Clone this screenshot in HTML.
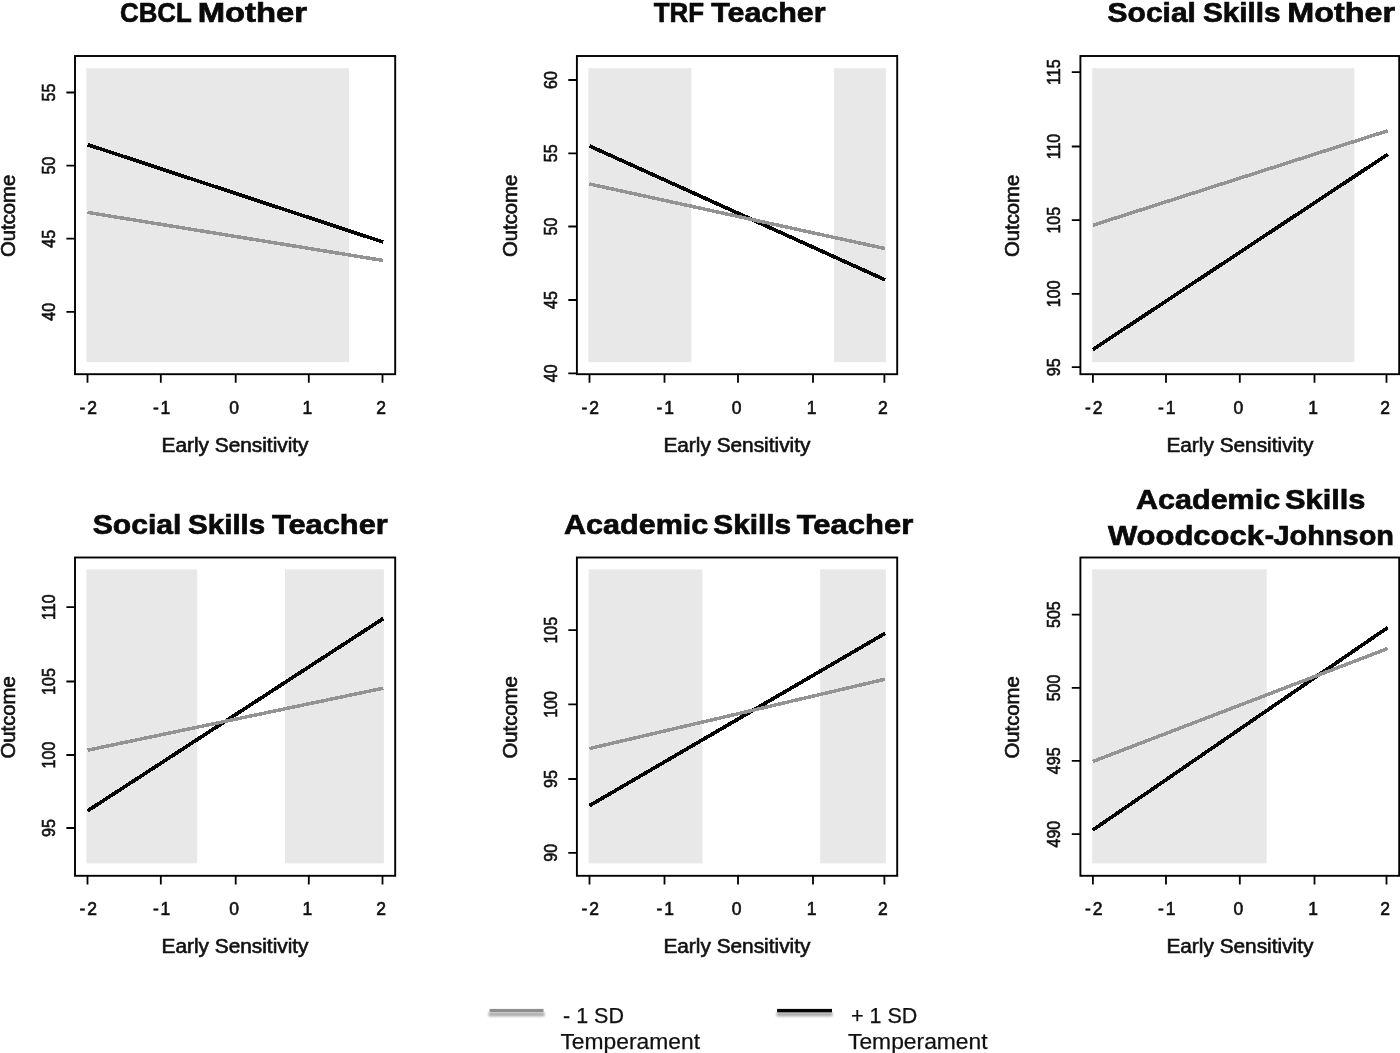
<!DOCTYPE html>
<html lang="en"><head><meta charset="utf-8"><title>Early Sensitivity by Temperament</title>
<style>html,body{margin:0;padding:0;background:#fff;overflow:hidden}svg{display:block}text{font-family:"Liberation Sans", sans-serif;fill:#111;stroke:#111;stroke-width:0.6px}.t{font-weight:bold;font-size:27.5px;fill:#0a0a0a;stroke:#0a0a0a;stroke-width:0.7px}.k{font-size:17.5px}.l{font-size:19.5px}.g{font-size:21.5px;stroke-width:0.25px}</style></head><body>
<svg width="1400" height="1053" viewBox="0 0 1400 1053">
<rect width="1400" height="1053" fill="#fff"/>
<g>
<rect x="86.4" y="68.2" width="262.6" height="294.0" fill="#e8e8e8"/>
<line x1="87.5" y1="144.6" x2="383.3" y2="242.1" stroke="#060606" stroke-width="3.7" shape-rendering="crispEdges"/>
<line x1="87.5" y1="212.4" x2="383.3" y2="260.5" stroke="#939393" stroke-width="3.5" shape-rendering="crispEdges"/>
<rect x="75.0" y="56.0" width="320.2" height="318.2" fill="none" stroke="#000" stroke-width="1.9"/>
<path d="M87.5 374.2v8.6M160.8 374.2v8.6M235.7 374.2v8.6M308.8 374.2v8.6M382.5 374.2v8.6M75.0 92.5h-8.6M75.0 165.6h-8.6M75.0 238.7h-8.6M75.0 311.8h-8.6" stroke="#000" stroke-width="1.8" fill="none"/>
<text class="k" x="88.3" y="413.8" text-anchor="middle">-<tspan dx="1.8">2</tspan></text>
<text class="k" x="161.6" y="413.8" text-anchor="middle">-<tspan dx="1.8">1</tspan></text>
<text class="k" x="234.2" y="413.8" text-anchor="middle">0</text>
<text class="k" x="307.3" y="413.8" text-anchor="middle">1</text>
<text class="k" x="381.0" y="413.8" text-anchor="middle">2</text>
<text class="k" transform="translate(55.3 92.5) rotate(-90) scale(0.92 1)" text-anchor="middle">55</text>
<text class="k" transform="translate(55.3 165.6) rotate(-90) scale(0.92 1)" text-anchor="middle">50</text>
<text class="k" transform="translate(55.3 238.7) rotate(-90) scale(0.92 1)" text-anchor="middle">45</text>
<text class="k" transform="translate(55.3 311.8) rotate(-90) scale(0.92 1)" text-anchor="middle">40</text>
<text class="l" x="161.5" y="451.8" textLength="147" lengthAdjust="spacingAndGlyphs">Early Sensitivity</text>
<text class="l" transform="translate(15.1 215.9) rotate(-90)" x="-41.2" textLength="82.4" lengthAdjust="spacingAndGlyphs">Outcome</text>
</g>
<g>
<rect x="588.3" y="68.2" width="103.1" height="294.0" fill="#e8e8e8"/>
<rect x="834.0" y="68.2" width="51.8" height="294.0" fill="#e8e8e8"/>
<line x1="589.4" y1="145.9" x2="885.2" y2="279.9" stroke="#060606" stroke-width="3.7" shape-rendering="crispEdges"/>
<line x1="589.4" y1="184.0" x2="885.2" y2="248.6" stroke="#939393" stroke-width="3.5" shape-rendering="crispEdges"/>
<rect x="576.9" y="56.0" width="320.3" height="318.2" fill="none" stroke="#000" stroke-width="1.9"/>
<path d="M589.5 374.2v8.6M664.5 374.2v8.6M738.0 374.2v8.6M813.0 374.2v8.6M884.4 374.2v8.6M576.9 80.0h-8.6M576.9 153.3h-8.6M576.9 226.5h-8.6M576.9 300.0h-8.6M576.9 373.3h-8.6" stroke="#000" stroke-width="1.8" fill="none"/>
<text class="k" x="590.3" y="413.8" text-anchor="middle">-<tspan dx="1.8">2</tspan></text>
<text class="k" x="665.3" y="413.8" text-anchor="middle">-<tspan dx="1.8">1</tspan></text>
<text class="k" x="736.5" y="413.8" text-anchor="middle">0</text>
<text class="k" x="811.5" y="413.8" text-anchor="middle">1</text>
<text class="k" x="882.9" y="413.8" text-anchor="middle">2</text>
<text class="k" transform="translate(557.3 80.0) rotate(-90) scale(0.92 1)" text-anchor="middle">60</text>
<text class="k" transform="translate(557.3 153.3) rotate(-90) scale(0.92 1)" text-anchor="middle">55</text>
<text class="k" transform="translate(557.3 226.5) rotate(-90) scale(0.92 1)" text-anchor="middle">50</text>
<text class="k" transform="translate(557.3 300.0) rotate(-90) scale(0.92 1)" text-anchor="middle">45</text>
<text class="k" transform="translate(557.3 373.3) rotate(-90) scale(0.92 1)" text-anchor="middle">40</text>
<text class="l" x="663.4" y="451.8" textLength="147" lengthAdjust="spacingAndGlyphs">Early Sensitivity</text>
<text class="l" transform="translate(517.1 215.9) rotate(-90)" x="-41.2" textLength="82.4" lengthAdjust="spacingAndGlyphs">Outcome</text>
</g>
<g>
<rect x="1092.2" y="68.2" width="262.2" height="294.0" fill="#e8e8e8"/>
<line x1="1092.8" y1="349.6" x2="1387.8" y2="154.3" stroke="#060606" stroke-width="3.7" shape-rendering="crispEdges"/>
<line x1="1092.8" y1="225.3" x2="1387.8" y2="130.7" stroke="#939393" stroke-width="3.5" shape-rendering="crispEdges"/>
<rect x="1080.4" y="56.0" width="318.8" height="318.2" fill="none" stroke="#000" stroke-width="1.9"/>
<path d="M1092.9 374.2v8.6M1166.0 374.2v8.6M1239.8 374.2v8.6M1314.5 374.2v8.6M1386.5 374.2v8.6M1080.4 72.2h-8.6M1080.4 146.5h-8.6M1080.4 220.2h-8.6M1080.4 293.8h-8.6M1080.4 367.2h-8.6" stroke="#000" stroke-width="1.8" fill="none"/>
<text class="k" x="1093.7" y="413.8" text-anchor="middle">-<tspan dx="1.8">2</tspan></text>
<text class="k" x="1166.8" y="413.8" text-anchor="middle">-<tspan dx="1.8">1</tspan></text>
<text class="k" x="1238.3" y="413.8" text-anchor="middle">0</text>
<text class="k" x="1313.0" y="413.8" text-anchor="middle">1</text>
<text class="k" x="1385.0" y="413.8" text-anchor="middle">2</text>
<text class="k" transform="translate(1059.8 72.2) rotate(-90) scale(0.92 1)" text-anchor="middle">115</text>
<text class="k" transform="translate(1059.8 146.5) rotate(-90) scale(0.92 1)" text-anchor="middle">110</text>
<text class="k" transform="translate(1059.8 220.2) rotate(-90) scale(0.92 1)" text-anchor="middle">105</text>
<text class="k" transform="translate(1059.8 293.8) rotate(-90) scale(0.92 1)" text-anchor="middle">100</text>
<text class="k" transform="translate(1059.8 367.2) rotate(-90) scale(0.92 1)" text-anchor="middle">95</text>
<text class="l" x="1166.4" y="451.8" textLength="147" lengthAdjust="spacingAndGlyphs">Early Sensitivity</text>
<text class="l" transform="translate(1019.1 215.9) rotate(-90)" x="-41.2" textLength="82.4" lengthAdjust="spacingAndGlyphs">Outcome</text>
</g>
<g>
<rect x="86.4" y="569.4" width="110.8" height="294.0" fill="#e8e8e8"/>
<rect x="285.0" y="569.4" width="98.9" height="294.0" fill="#e8e8e8"/>
<line x1="87.5" y1="810.9" x2="383.3" y2="618.5" stroke="#060606" stroke-width="3.7" shape-rendering="crispEdges"/>
<line x1="87.5" y1="750.2" x2="383.3" y2="688.2" stroke="#939393" stroke-width="3.5" shape-rendering="crispEdges"/>
<rect x="75.0" y="557.5" width="320.2" height="318.3" fill="none" stroke="#000" stroke-width="1.9"/>
<path d="M87.5 875.8v8.6M160.8 875.8v8.6M235.7 875.8v8.6M308.8 875.8v8.6M382.5 875.8v8.6M75.0 607.1h-8.6M75.0 681.5h-8.6M75.0 755.0h-8.6M75.0 828.0h-8.6" stroke="#000" stroke-width="1.8" fill="none"/>
<text class="k" x="88.3" y="915.4" text-anchor="middle">-<tspan dx="1.8">2</tspan></text>
<text class="k" x="161.6" y="915.4" text-anchor="middle">-<tspan dx="1.8">1</tspan></text>
<text class="k" x="234.2" y="915.4" text-anchor="middle">0</text>
<text class="k" x="307.3" y="915.4" text-anchor="middle">1</text>
<text class="k" x="381.0" y="915.4" text-anchor="middle">2</text>
<text class="k" transform="translate(55.3 607.1) rotate(-90) scale(0.92 1)" text-anchor="middle">110</text>
<text class="k" transform="translate(55.3 681.5) rotate(-90) scale(0.92 1)" text-anchor="middle">105</text>
<text class="k" transform="translate(55.3 755.0) rotate(-90) scale(0.92 1)" text-anchor="middle">100</text>
<text class="k" transform="translate(55.3 828.0) rotate(-90) scale(0.92 1)" text-anchor="middle">95</text>
<text class="l" x="161.5" y="953.4" textLength="147" lengthAdjust="spacingAndGlyphs">Early Sensitivity</text>
<text class="l" transform="translate(15.1 717.4) rotate(-90)" x="-41.2" textLength="82.4" lengthAdjust="spacingAndGlyphs">Outcome</text>
</g>
<g>
<rect x="588.6" y="569.4" width="113.8" height="294.0" fill="#e8e8e8"/>
<rect x="820.2" y="569.4" width="65.6" height="294.0" fill="#e8e8e8"/>
<line x1="589.4" y1="805.7" x2="885.2" y2="633.3" stroke="#060606" stroke-width="3.7" shape-rendering="crispEdges"/>
<line x1="589.4" y1="748.6" x2="885.2" y2="679.2" stroke="#939393" stroke-width="3.5" shape-rendering="crispEdges"/>
<rect x="576.9" y="557.5" width="320.3" height="318.3" fill="none" stroke="#000" stroke-width="1.9"/>
<path d="M589.5 875.8v8.6M664.5 875.8v8.6M738.0 875.8v8.6M813.0 875.8v8.6M884.4 875.8v8.6M576.9 630.2h-8.6M576.9 704.4h-8.6M576.9 779.0h-8.6M576.9 852.8h-8.6" stroke="#000" stroke-width="1.8" fill="none"/>
<text class="k" x="590.3" y="915.4" text-anchor="middle">-<tspan dx="1.8">2</tspan></text>
<text class="k" x="665.3" y="915.4" text-anchor="middle">-<tspan dx="1.8">1</tspan></text>
<text class="k" x="736.5" y="915.4" text-anchor="middle">0</text>
<text class="k" x="811.5" y="915.4" text-anchor="middle">1</text>
<text class="k" x="882.9" y="915.4" text-anchor="middle">2</text>
<text class="k" transform="translate(557.3 630.2) rotate(-90) scale(0.92 1)" text-anchor="middle">105</text>
<text class="k" transform="translate(557.3 704.4) rotate(-90) scale(0.92 1)" text-anchor="middle">100</text>
<text class="k" transform="translate(557.3 779.0) rotate(-90) scale(0.92 1)" text-anchor="middle">95</text>
<text class="k" transform="translate(557.3 852.8) rotate(-90) scale(0.92 1)" text-anchor="middle">90</text>
<text class="l" x="663.4" y="953.4" textLength="147" lengthAdjust="spacingAndGlyphs">Early Sensitivity</text>
<text class="l" transform="translate(517.1 717.4) rotate(-90)" x="-41.2" textLength="82.4" lengthAdjust="spacingAndGlyphs">Outcome</text>
</g>
<g>
<rect x="1092.2" y="569.4" width="174.5" height="294.0" fill="#e8e8e8"/>
<line x1="1092.8" y1="830.0" x2="1387.8" y2="627.5" stroke="#060606" stroke-width="3.7" shape-rendering="crispEdges"/>
<line x1="1092.8" y1="761.5" x2="1387.8" y2="648.5" stroke="#939393" stroke-width="3.5" shape-rendering="crispEdges"/>
<rect x="1080.4" y="557.5" width="318.8" height="318.3" fill="none" stroke="#000" stroke-width="1.9"/>
<path d="M1092.9 875.8v8.6M1166.0 875.8v8.6M1239.8 875.8v8.6M1314.5 875.8v8.6M1386.5 875.8v8.6M1080.4 614.6h-8.6M1080.4 687.9h-8.6M1080.4 760.8h-8.6M1080.4 834.1h-8.6" stroke="#000" stroke-width="1.8" fill="none"/>
<text class="k" x="1093.7" y="915.4" text-anchor="middle">-<tspan dx="1.8">2</tspan></text>
<text class="k" x="1166.8" y="915.4" text-anchor="middle">-<tspan dx="1.8">1</tspan></text>
<text class="k" x="1238.3" y="915.4" text-anchor="middle">0</text>
<text class="k" x="1313.0" y="915.4" text-anchor="middle">1</text>
<text class="k" x="1385.0" y="915.4" text-anchor="middle">2</text>
<text class="k" transform="translate(1059.8 614.6) rotate(-90) scale(0.92 1)" text-anchor="middle">505</text>
<text class="k" transform="translate(1059.8 687.9) rotate(-90) scale(0.92 1)" text-anchor="middle">500</text>
<text class="k" transform="translate(1059.8 760.8) rotate(-90) scale(0.92 1)" text-anchor="middle">495</text>
<text class="k" transform="translate(1059.8 834.1) rotate(-90) scale(0.92 1)" text-anchor="middle">490</text>
<text class="l" x="1166.4" y="953.4" textLength="147" lengthAdjust="spacingAndGlyphs">Early Sensitivity</text>
<text class="l" transform="translate(1019.1 717.4) rotate(-90)" x="-41.2" textLength="82.4" lengthAdjust="spacingAndGlyphs">Outcome</text>
</g>
<text class="t" y="21.7"><tspan x="120.1" textLength="71.2" lengthAdjust="spacingAndGlyphs">CBCL</tspan> <tspan x="197.7" textLength="109.4" lengthAdjust="spacingAndGlyphs">Mother</tspan></text>
<text class="t" y="21.7"><tspan x="653.7" textLength="50.3" lengthAdjust="spacingAndGlyphs">TRF</tspan> <tspan x="711.2" textLength="114.4" lengthAdjust="spacingAndGlyphs">Teacher</tspan></text>
<text class="t" y="21.6"><tspan x="1107.6" textLength="88.3" lengthAdjust="spacingAndGlyphs">Social</tspan> <tspan x="1202.9" textLength="77.6" lengthAdjust="spacingAndGlyphs">Skills</tspan> <tspan x="1287.2" textLength="107.9" lengthAdjust="spacingAndGlyphs">Mother</tspan></text>
<text class="t" y="533.9"><tspan x="92.7" textLength="88.7" lengthAdjust="spacingAndGlyphs">Social</tspan> <tspan x="188.1" textLength="77.1" lengthAdjust="spacingAndGlyphs">Skills</tspan> <tspan x="271.9" textLength="115.9" lengthAdjust="spacingAndGlyphs">Teacher</tspan></text>
<text class="t" y="533.8"><tspan x="564.0" textLength="144.3" lengthAdjust="spacingAndGlyphs">Academic</tspan> <tspan x="713.3" textLength="77.8" lengthAdjust="spacingAndGlyphs">Skills</tspan> <tspan x="796.7" textLength="116.6" lengthAdjust="spacingAndGlyphs">Teacher</tspan></text>
<text class="t" y="508.7"><tspan x="1136.0" textLength="144.2" lengthAdjust="spacingAndGlyphs">Academic</tspan> <tspan x="1285.1" textLength="80.4" lengthAdjust="spacingAndGlyphs">Skills</tspan></text>
<text class="t" y="544.9"><tspan x="1107.9" textLength="156.1" lengthAdjust="spacingAndGlyphs">Woodcock</tspan> <tspan x="1264.7" textLength="9.3" lengthAdjust="spacingAndGlyphs">-</tspan> <tspan x="1273.5" textLength="120.5" lengthAdjust="spacingAndGlyphs">Johnson</tspan></text>
<defs><filter id="sh" filterUnits="userSpaceOnUse" x="470" y="1000" width="380" height="30"><feGaussianBlur stdDeviation="1.1"/></filter></defs>
<rect x="488.5" y="1012.2" width="56" height="4.2" fill="#acacac" filter="url(#sh)"/>
<rect x="489.6" y="1008.9" width="53.9" height="3.2" fill="#8e8e8e"/>
<rect x="776.5" y="1012.2" width="56" height="4.2" fill="#acacac" filter="url(#sh)"/>
<rect x="777.1" y="1008.9" width="54.9" height="3.4" fill="#050505"/>
<text class="g" x="563" y="1023">- 1 SD</text>
<text class="g" x="560.4" y="1048.7" textLength="139.6" lengthAdjust="spacingAndGlyphs">Temperament</text>
<text class="g" x="851" y="1023">+ 1 SD</text>
<text class="g" x="848" y="1048.7" textLength="139.6" lengthAdjust="spacingAndGlyphs">Temperament</text>
</svg></body></html>
